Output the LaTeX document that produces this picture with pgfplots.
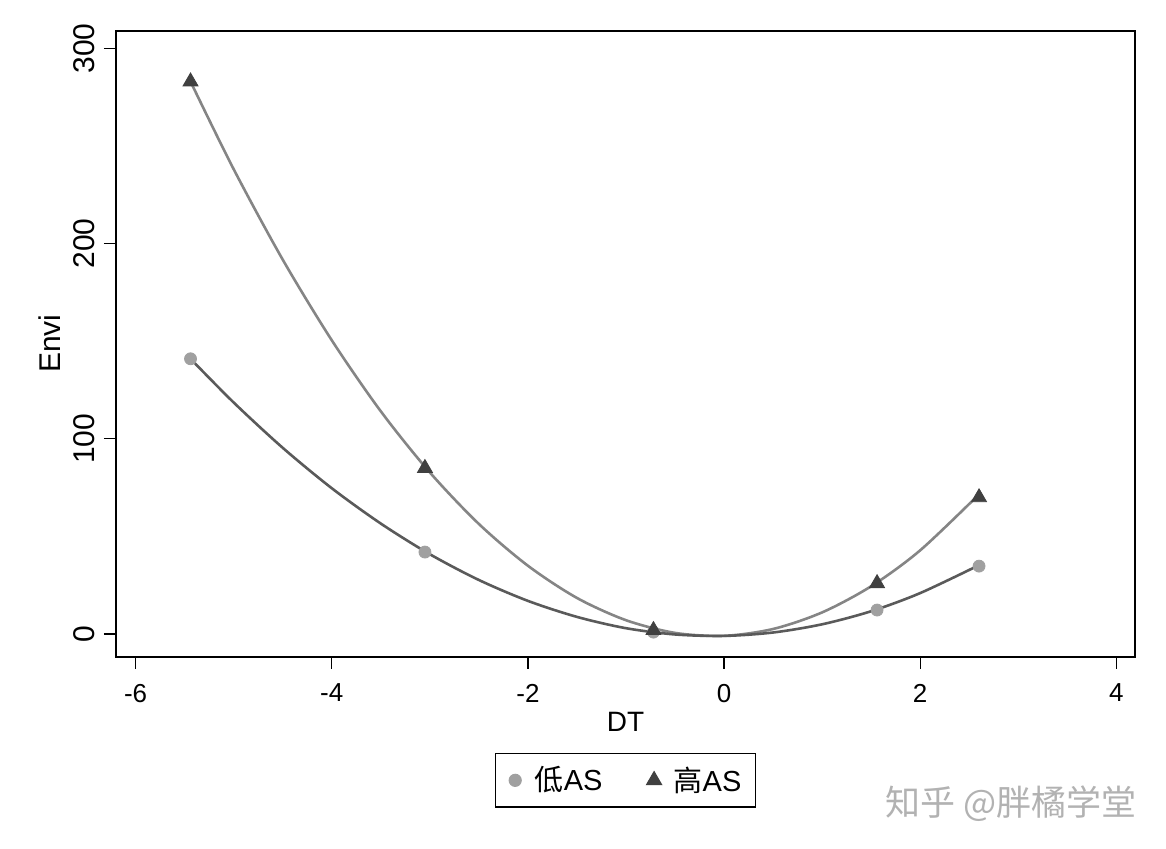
\documentclass[border=0pt]{standalone}
\usepackage{pgfplots}
\pgfplotsset{compat=1.18}
\usepackage{fontspec}
\setmainfont{Liberation Sans}
\newfontfamily\cjk{Noto Sans CJK SC}

\definecolor{lowmark}{HTML}{A0A0A0}
\definecolor{highmark}{HTML}{404040}
\definecolor{lowline}{HTML}{5A5A5A}
\definecolor{highline}{HTML}{858585}

\begin{document}
\begin{tikzpicture}
\path[use as bounding box] (-58pt,-95.75pt) rectangle (525pt,328.25pt);

\begin{axis}[
    at={(0,0)}, anchor=south west,
    scale only axis,
    width=509.5pt, height=312.75pt,
    xmin=-6.2, xmax=4.19,
    ymin=-11.5, ymax=308.9,
    xtick={-6,-4,...,4},
    ytick={0,100,200,300},
    xtick pos=lower, ytick pos=left,
    tick align=outside,
    major tick length=6pt,
    tick style={black, line width=0.6pt},
    axis line style={black, line width=1pt},
    /pgf/number format/assume math mode=true,
    xticklabel style={font=\fontsize{13}{15}\selectfont, inner sep=0pt, anchor=north, yshift=-7.5pt},
    yticklabel style={font=\fontsize{15}{18}\selectfont, inner sep=0pt, rotate=90, anchor=south, yshift=4.5pt},
    xlabel={DT},
    ylabel={Envi},
    every axis x label/.style={at={(axis description cs:0.5,0)}, anchor=center, yshift=-32.75pt, font=\fontsize{14}{17}\selectfont},
    every axis y label/.style={at={(axis description cs:0,0.5)}, xshift=-33pt, rotate=90, anchor=center, font=\fontsize{15}{18}\selectfont},
    legend columns=2,
    legend style={at={(0.5,0)}, anchor=north, yshift=-48.25pt,
        draw=black, line width=0.6pt, font=\fontsize{14.5}{17}\selectfont,
        inner xsep=5pt, inner ysep=4.5pt,
        /tikz/every even column/.append style={column sep=19pt}},
    legend image code/.code={\path (0pt,0pt) (12pt,0pt); \draw[#1] plot coordinates {(4.5pt,0pt)};},
]

% fitted curves
\addplot[highline, line width=1.3pt, smooth, forget plot] coordinates {
(-5.44,283.0) (-5.0,238.1) (-4.5,191.8) (-4.0,150.5) (-3.5,114.1) (-3.0,82.8)
(-2.5,56.4) (-2.0,35.0) (-1.5,18.5) (-1.0,7.1) (-0.5,0.6) (0.0,-0.9)
(0.5,2.6) (1.0,11.1) (1.5,24.5) (2.0,42.9) (2.6,71.6)};
\addplot[lowline, line width=1.3pt, smooth, forget plot] coordinates {
(-5.44,141.0) (-5.0,118.6) (-4.5,95.4) (-4.0,74.7) (-3.5,56.6) (-3.0,40.9)
(-2.5,27.7) (-2.0,17.0) (-1.5,8.8) (-1.0,3.0) (-0.5,-0.2) (0.0,-0.95)
(0.5,0.8) (1.0,5.0) (1.5,11.7) (2.0,21.0) (2.6,35.3)};

% group means
\addplot[only marks, mark=*, mark size=3pt, mark options={draw=lowmark, fill=lowmark}] coordinates {
(-5.44,141) (-3.05,42) (-0.72,1) (1.56,12.3) (2.6,34.8)};
\addlegendentry{{\cjk 低}AS}
\addplot[only marks, mark=triangle*, mark size=4.3pt, mark options={draw=highmark, fill=highmark}] coordinates {
(-5.44,283) (-3.05,85) (-0.72,2) (1.56,26) (2.6,70)};
\addlegendentry{{\cjk 高}AS}

\end{axis}

\node[anchor=east, inner sep=0pt, text=black!30, font=\cjk\fontsize{17.5}{20}\selectfont] at (510.5pt,-73.5pt) {知乎 @胖橘学堂};
\end{tikzpicture}
\end{document}
